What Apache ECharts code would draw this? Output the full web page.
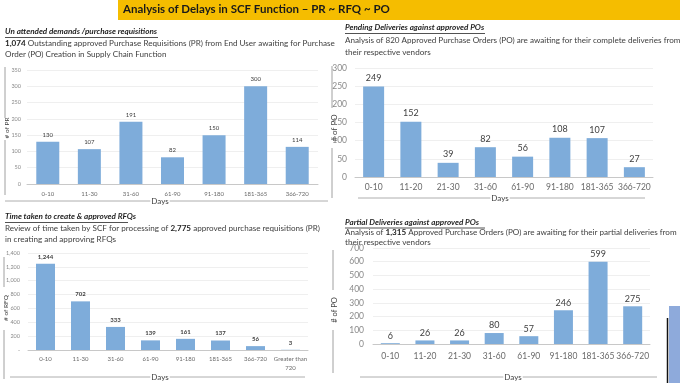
<!DOCTYPE html>
<html><head><meta charset="utf-8">
<script src="https://cdn.jsdelivr.net/npm/echarts@6/dist/echarts.min.js"></script>
<style>html,body{margin:0;padding:0;background:#fff}#c{width:680px;height:383px}</style>
</head><body><div id="c"></div>
<script>
const catsPR = ['0-10','11-30','31-60','61-90','91-180','181-365','366-720'];
const valsPR = [130,107,191,82,150,300,114];
const catsPending = ['0-10','11-20','21-30','31-60','61-90','91-180','181-365','366-720'];
const valsPending = [249,152,39,82,56,108,107,27];
const catsRFQ = ['0-10','11-30','31-60','61-90','91-180','181-365','366-720','Greater than\n720'];
const valsRFQ = [1244,702,333,139,161,137,56,3];
const catsPartial = ['0-10','11-20','21-30','31-60','61-90','91-180','181-365','366-720'];
const valsPartial = [6,26,26,80,57,246,599,275];

const FONT = 'Lato';
const BAR = '#7EACDA';
const TFS = 8.1;
const chart = echarts.init(document.getElementById('c'), null, {renderer:'canvas'});

function xAx(i, cats, fs, margin){
  return {type:'category', gridIndex:i, data:cats,
    axisLine:{lineStyle:{color:'#c8c8c8'}}, axisTick:{show:false},
    axisLabel:{fontFamily:FONT, fontSize:fs, color:'#6a6a6a', margin:margin, interval:0, lineHeight:fs+3}};
}
function yAx(i, max, itv, fs, margin, fmt){
  return {type:'value', gridIndex:i, min:0, max:max, interval:itv,
    axisLine:{show:false}, axisTick:{show:false},
    splitLine:{lineStyle:{color:'#efefef'}},
    axisLabel:{fontFamily:FONT, fontSize:fs, color:'#8a8a8a', margin:margin, formatter:fmt}};
}
function ser(i, vals, bw, fs, dist, bold, fmt){
  return {type:'bar', xAxisIndex:i, yAxisIndex:i, data:vals, barWidth:bw,
    itemStyle:{color:BAR},
    label:{show:true, position:'top', distance:dist, fontFamily:FONT, fontSize:fs,
      fontWeight: bold?'bold':'normal', color:'#404040', formatter:fmt}};
}
const commaFmt = v => v===0 ? '-' : Number(v).toLocaleString('en-US');
const commaLbl = p => Number(p.value).toLocaleString('en-US');

function txt(x,y,text,fs,extra){
  return Object.assign({type:'text', left:x, top:y, silent:true,
    style:Object.assign({text:text, fontFamily:FONT, fontSize:fs, fill:'#404040'}, extra||{})});
}
function line(x1,y1,x2,y2,color,w){
  return {type:'line', silent:true, shape:{x1:x1,y1:y1,x2:x2,y2:y2}, style:{stroke:color||'#a0a0a0', lineWidth:w||1}};
}
function vtxt(x,y,text,fs){
  return {type:'text', x:x, y:y, rotation:Math.PI/2, silent:true,
    style:{text:text, fontFamily:FONT, fontSize:fs, fill:'#404040', align:'center', verticalAlign:'middle'}};
}
function days(x1,x2,y,cx){
  return [line(x1,y,x2,y,'#9a9a9a',0.8),
    {type:'text', x:cx, y:y, silent:true, z:10,
     style:{text:'Days', fontFamily:FONT, fontSize:8, fill:'#404040', align:'center', verticalAlign:'middle',
       backgroundColor:'#fff', padding:[0,1]}}];
}
const rich = {b:{fontFamily:FONT, fontSize:TFS, fontWeight:'bold', fill:'#262626'}};
const hdr = {fontStyle:'italic', fontWeight:'bold', fill:'#262626'};

const graphic = [
  {type:'rect', silent:true, shape:{x:118,y:0,width:562,height:20}, style:{fill:'#F5BD00'}},
  txt(123,3.5,'Analysis of Delays in SCF Function \u2013 PR ~ RFQ ~ PO',11.5,{fontWeight:'bold', fill:'#1a1a1a'}),
  // top-left text
  txt(5,27.5,'Un attended demands /purchase requisitions',TFS,hdr),
  line(5,37.5,158,37.5,'#262626',0.8),
  txt(5,38.5,'{b|1,074} Outstanding approved Purchase Requisitions (PR) from End User awaiting for Purchase\nOrder (PO) Creation in Supply Chain Function',TFS,{lineHeight:10.5, rich:rich}),
  // top-right text
  txt(345,23.5,'Pending Deliveries against approved POs',TFS,hdr),
  line(345,33.5,485,33.5,'#262626',0.8),
  txt(345,35,'Analysis of 820 Approved Purchase Orders (PO) are awaiting for their complete deliveries from\ntheir respective vendors',TFS,{lineHeight:11.5}),
  // bottom-left text
  txt(5,212.5,'Time taken to create & approved RFQs',TFS,hdr),
  line(5,222.5,128,222.5,'#262626',0.8),
  txt(5,223.5,'Review of time taken by SCF for processing of {b|2,775} approved purchase requisitions (PR)\nin creating and approving RFQs',TFS,{lineHeight:10.5, rich:rich}),
  // bottom-right text
  txt(345,218.5,'Partial Deliveries against approved POs',TFS,hdr),
  line(345,228,485,228,'#262626',0.8),
  txt(345,227.5,'Analysis of {b|1,315} Approved Purchase Orders (PO) are awaiting for their partial deliveries from\ntheir respective vendors',TFS,{lineHeight:10, rich:rich}),
  // axis titles + frame lines
  line(5,67,5,118), vtxt(7,128,'# of PR',6.5), line(5,140,5,195),
  line(332,66,332,108), vtxt(334,128,'# of PO',8), line(332,148,332,198),
  line(4,257,4,287), vtxt(6,308,'# of RFQ',6.5), line(4,330,4,379),
  line(333,250,333,290), vtxt(335,310,'# of PO',7.5), line(333,330,333,373),
  ...days(5,328,201,160),
  ...days(358,645,198,500),
  ...days(10,305,377,160),
  ...days(360,657,377,513),
  // right-edge fragment
  {type:'rect', silent:true, shape:{x:669,y:306,width:11,height:77}, style:{fill:'#8EAADB'}},
  line(667.5,318,667.5,383,'#111',1.5)
];

chart.setOption({
  animation:false,
  grid:[
    {left:27, top:70, width:291, height:114},
    {left:355, top:68, width:298, height:109},
    {left:28, top:253, width:280, height:97},
    {left:373, top:248, width:277, height:96}
  ],
  xAxis:[
    xAx(0,catsPR,6,6),
    xAx(1,catsPending,8.5,5),
    xAx(2,catsRFQ,6,5),
    xAx(3,catsPartial,8.5,7)
  ],
  yAxis:[
    yAx(0,350,50,5.5,6),
    yAx(1,300,50,8.5,8),
    yAx(2,1400,200,5.5,8,commaFmt),
    yAx(3,700,100,8.5,9)
  ],
  series:[
    ser(0,valsPR,23,6,4,false),
    ser(1,valsPending,21,9,4,false),
    ser(2,valsRFQ,19,6,4,true,commaLbl),
    ser(3,valsPartial,19,9,3,false)
  ],
  graphic:graphic
});
</script></body></html>
